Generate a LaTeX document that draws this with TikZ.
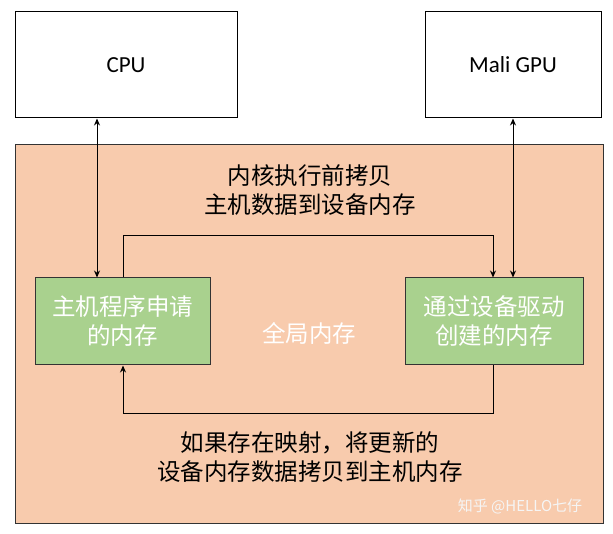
\documentclass[tikz,border=0pt]{standalone}
\usepackage{fontspec}
\setmainfont{Carlito}
\newfontfamily\cjk{Noto Sans CJK SC}
\usetikzlibrary{arrows.meta}
\begin{document}
\begin{tikzpicture}[x=1pt,y=-1pt,
  wbox/.style={draw=black,fill=white,line width=1pt},
  conn/.style={line width=1pt,-{Stealth[length=7pt,width=6pt]}},
  dconn/.style={line width=1pt,{Stealth[length=7pt,width=6pt]}-{Stealth[length=7pt,width=6pt]}},
  lbl/.style={font=\cjk\fontsize{23.5}{29}\selectfont,align=center}]
\useasboundingbox (0,0) rectangle (613,534);
\fill[white] (0,0) rectangle (613,534);
\definecolor{org}{HTML}{F8CBAD}
\definecolor{grn}{HTML}{A9D18E}
\node[draw=black!80,fill=org,line width=1pt,minimum width=588,minimum height=378,inner sep=0] (mem) at (309,334) {};
\node[wbox,minimum width=222,minimum height=106,inner sep=0,font=\fontsize{23}{26}\selectfont] (cpu) at (126,65) {CPU};
\node[wbox,minimum width=176,minimum height=106,inner sep=0,font=\fontsize{23}{26}\selectfont] (gpu) at (513,65) {Mali GPU};
\node[draw=black!80,fill=grn,line width=1pt,minimum width=175,minimum height=87,inner sep=0,lbl,text=white] (host) at (122.5,321.5) {主机程序申请\\的内存};
\node[draw=black!80,fill=grn,line width=1pt,minimum width=178,minimum height=87,inner sep=0,lbl,text=white] (dev) at (494,321.5) {通过设备驱动\\创建的内存};
\node[lbl,text=white] (glob) at (309,333) {全局内存};
\node[lbl] (t1) at (310,190) {内核执行前拷贝\\主机数据到设备内存};
\node[lbl] (t2) at (310,457) {如果存在映射，将更新的\\设备内存数据拷贝到主机内存};
\node[font=\cjk\fontsize{15}{18}\selectfont,text=white!92!gray] (wm) at (520,506) {知乎 @HELLO七仔};
\draw[dconn] (cpu.south -| 97,0) -- (host.north -| 97,0);
\draw[dconn] (gpu.south) -- (dev.north -| gpu.south);
\draw[conn] (host.north -| 123,0) |- (493,236) -- (dev.north -| 493,0);
\draw[conn] (dev.south -| 493,0) |- (123,413) -- (host.south -| 123,0);
\end{tikzpicture}
\end{document}
